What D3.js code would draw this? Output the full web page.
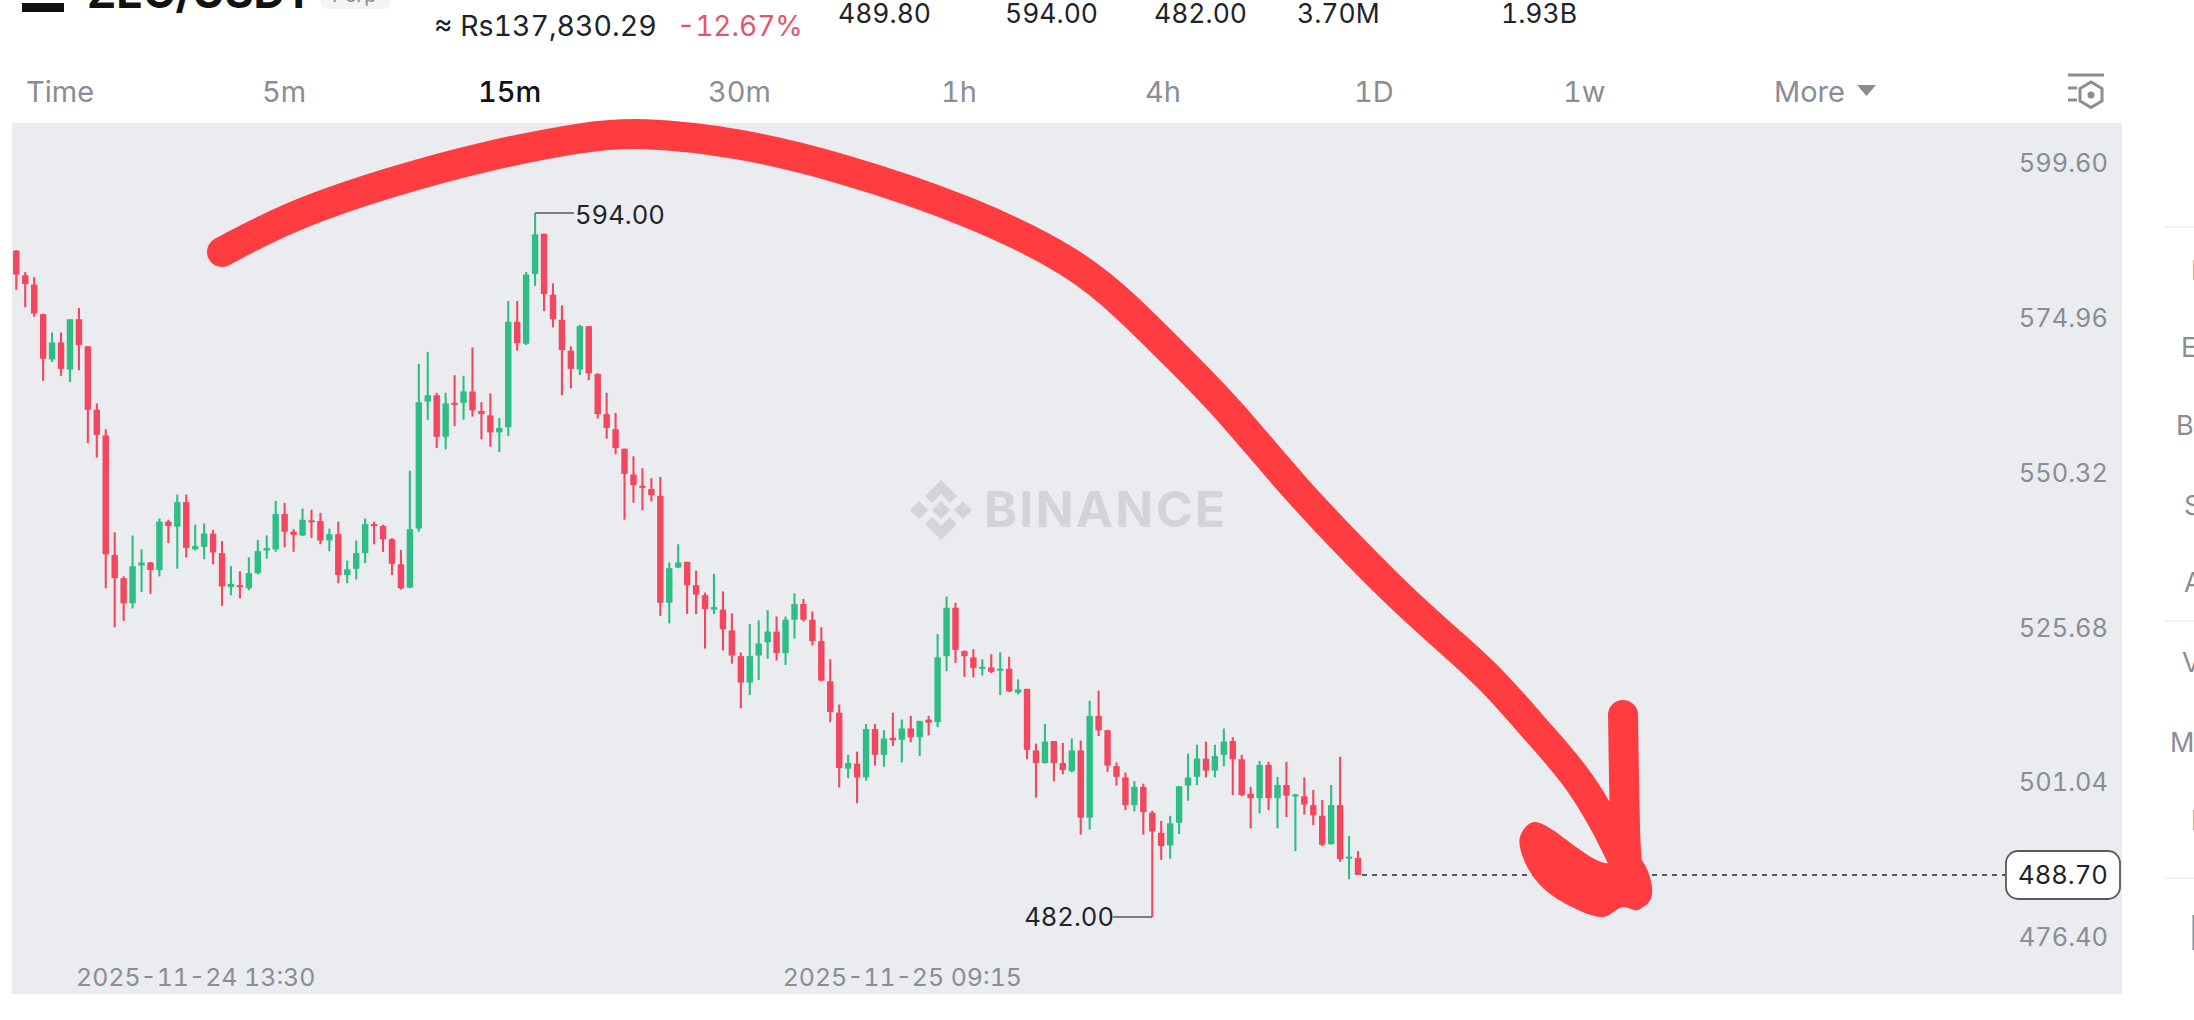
<!DOCTYPE html>
<html>
<head>
<meta charset="utf-8">
<script src="https://cdn.jsdelivr.net/npm/d3@7/dist/d3.min.js"></script>
<style>
html,body{margin:0;padding:0;background:#fff;overflow:hidden}
svg{display:block}
text{font-family:Inter,"Noto Sans",sans-serif;font-feature-settings:"tnum" 1}
</style>
</head>
<body>
<div id="chart"></div>
<script>
// --- data (15m candles, USDT) ---
const opens = [
588.0,584.1,582.6,577.9,570.7,573.4,569.1,577.1,572.8,562.7,
558.6,539.6,535.9,531.9,537.9,538.4,537.2,544.9,544.1,548.0,
540.5,540.9,543.0,539.9,534.5,534.8,534.3,536.7,540.3,540.5,
546.1,543.3,542.7,545.1,545.0,541.9,542.9,536.4,537.4,539.9,
544.5,544.2,542.1,538.1,534.4,543.8,564.0,565.0,558.4,563.8,
563.8,565.6,562.5,561.8,559.1,559.9,576.7,573.2,584.3,590.7,
581.0,577.0,572.1,569.1,576.0,568.4,562.0,559.6,556.5,552.4,
550.6,550.1,549.0,532.0,537.6,538.5,534.8,533.2,530.9,530.9,
527.6,523.5,519.3,523.6,525.7,527.4,524.0,529.3,531.8,529.3,
525.9,519.5,514.5,505.6,506.4,504.2,511.9,507.8,510.5,510.2,
512.0,510.6,513.4,513.0,523.5,531.2,524.3,523.3,521.5,521.7,
521.2,521.5,517.7,518.3,508.5,506.5,510.0,506.5,505.2,508.5,
497.8,514.0,511.7,506.0,504.2,499.8,502.7,498.6,495.4,493.4,
497.0,502.9,504.3,507.2,505.3,507.8,510.0,507.1,501.6,500.9,
506.2,500.9,503.0,501.3,501.2,499.8,498.1,493.6,499.8,491.4,
491.4];
const closes = [
584.2,582.7,578.0,570.8,573.4,569.2,577.1,573.0,562.7,558.7,
539.7,535.9,531.9,537.8,538.4,537.2,544.9,544.2,548.0,540.7,
541.0,543.0,540.0,534.6,535.0,534.5,536.7,540.2,540.7,546.1,
543.3,542.8,545.2,544.8,541.9,542.9,536.4,537.3,539.9,544.5,
544.2,542.1,538.2,534.3,543.7,563.9,565.0,558.4,563.7,563.5,
565.6,562.6,562.0,559.1,559.8,576.7,573.3,584.2,590.6,581.1,
577.1,572.2,569.2,576.0,568.5,562.0,559.8,556.6,552.5,550.7,
550.3,549.1,532.0,537.5,538.4,534.8,533.3,531.0,531.3,527.8,
523.6,519.3,523.5,525.5,527.4,524.0,529.3,531.8,529.3,525.9,
519.6,514.6,505.7,506.5,504.2,511.9,507.8,510.4,510.1,512.0,
510.6,513.2,512.9,523.3,531.2,524.5,523.5,521.6,521.8,521.0,
521.5,517.9,518.2,508.6,506.5,509.9,506.5,505.4,508.5,497.8,
514.0,511.7,506.1,504.3,499.8,502.7,498.7,495.6,493.3,496.9,
502.8,504.2,507.2,505.3,507.6,509.9,507.1,501.4,500.9,506.2,
500.9,503.0,501.3,501.5,499.9,498.2,493.5,499.8,491.2,491.6,
488.7];
const highs = [
588.1,584.6,583.8,578.0,575.0,575.0,577.1,578.9,572.8,563.7,
559.6,543.2,536.2,542.7,540.5,538.5,545.4,545.2,549.2,549.2,
544.4,544.6,543.6,541.8,537.8,537.0,539.2,542.0,542.7,548.2,
547.9,543.7,547.0,546.8,546.3,543.8,544.9,538.7,541.9,545.4,
544.9,544.4,542.3,540.4,553.0,570.0,571.9,565.4,565.4,568.2,
568.1,572.6,563.9,565.3,561.4,580.0,580.0,584.6,594.0,590.7,
582.8,579.3,572.8,576.2,576.0,568.5,565.4,562.2,556.5,555.3,
553.4,551.8,552.0,538.4,541.3,538.5,537.1,533.6,536.6,533.8,
530.3,524.1,528.6,529.2,530.8,529.8,529.8,533.5,532.6,530.6,
528.1,523.0,515.8,507.8,508.3,512.7,512.7,511.7,514.5,513.4,
514.0,513.2,514.0,527.0,533.0,532.0,524.4,524.6,523.0,523.8,
524.1,523.4,519.8,518.3,509.6,512.7,510.0,509.7,510.4,510.1,
516.4,518.0,511.8,506.6,505.0,503.6,503.2,498.9,497.3,498.1,
502.8,508.0,509.4,509.9,509.4,512.0,510.6,507.8,502.7,506.8,
506.7,504.3,506.7,501.6,504.2,502.2,500.6,503.0,507.5,494.9,
492.5];
const lows = [
581.8,579.0,577.5,567.3,570.3,568.1,567.1,569.0,557.4,555.1,
534.3,528.1,529.1,531.1,533.7,533.4,536.2,541.5,537.4,539.2,
540.3,538.9,538.1,531.5,533.2,532.7,534.0,536.5,539.0,540.1,
540.8,540.1,542.6,542.3,541.3,540.2,535.1,535.1,535.7,538.3,
541.3,540.1,536.4,534.1,534.3,543.3,561.1,556.6,556.4,560.1,
561.1,561.6,558.0,556.8,556.0,558.5,572.1,573.0,582.4,578.4,
575.8,565.0,566.1,568.2,567.4,561.3,558.1,555.6,545.2,547.9,
546.7,548.1,529.9,528.7,537.5,530.2,530.2,524.7,530.2,524.4,
522.3,515.2,517.3,519.7,523.1,522.8,522.1,526.3,529.0,525.2,
519.5,513.0,502.6,504.1,500.1,503.7,506.1,505.9,509.2,506.6,
509.8,507.6,510.9,512.2,521.1,522.4,520.2,520.1,520.4,520.8,
517.3,517.8,517.4,507.1,501.0,506.4,503.6,504.7,505.0,495.1,
495.9,510.8,505.1,502.9,499.0,498.8,495.1,482.0,491.1,491.3,
495.2,500.5,503.0,504.2,504.2,506.0,501.4,501.2,496.1,498.5,
499.0,496.1,497.9,492.5,498.3,496.6,493.3,493.5,490.8,488.0,
488.7];

const priceTicks = [599.60,574.96,550.32,525.68,501.04,476.40];
const timeTickIndex = [20,99];
const timeTickLabels = ["2025-11-24 13:30","2025-11-25 09:15"];
const lastPrice = 488.70;
const maxPoint = {i:58, price:594.00};
const minPoint = {i:127, price:482.00};

const tabLabels = ["Time","5m","15m","30m","1h","4h","1D","1w","More"];
const tabStarts = [26,262,478,708,941,1145,1354,1563,1774];
const activeTab = "15m";
const statLabels = ["489.80","594.00","482.00","3.70M","1.93B"];
const statStarts = [838,1005,1154,1297,1501];
const sideLetters = ["M","E","B","S","A","V","M","R"];
const sideStarts  = [2191,2181,2176,2184,2184,2182,2170,2191];
const sideMiddles = [270,347,425,505,582,662,742,820];

// Hand-drawn red arrow: annotation overlay in page pixels, not data
const arrowShaftPx = [[222,252],[289,216],[389,182],[488,155],[588,136],[638,132],[737,142],[837,166],[970,210],[1077,263],[1127,307],[1177,357],[1227,407],[1293,487],[1360,557],[1400,597],[1450,642],[1493,680],[1540,735],[1581,780],[1618,847],[1637,893]];
const arrowBarbPx = [[1623,715],[1624,780],[1625,830],[1626,857],[1630,890]];
const arrowBlobPx = [[1534,822],[1605,863],[1638,857],[1652,893],[1638,910],[1623,907],[1603,917],[1572,907],[1542,887],[1524,860],[1520,837]];

// --- layout ---
const W=2194,H=1020;
const plot={l:12,r:2122,t:123,b:994};
const FG="#1e2329",GR="#8a8d93",UP="#2ebd85",DOWN="#f3465e",MARK="#ff3c3f",LINE="#555a60";

const candles=opens.map((o,i)=>({i,o,c:closes[i],h:highs[i],l:lows[i]}));

const x=d3.scaleLinear().domain([0,150]).range([16.3,1358]);
const y=d3.scaleLinear().domain([594,482]).range([213,917]);

const svg=d3.select("#chart").append("svg").attr("width",W).attr("height",H).attr("viewBox",`0 0 ${W} ${H}`);
const defs=svg.append("defs");
defs.append("filter").attr("id","soft").append("feGaussianBlur").attr("stdDeviation",0.45);

// --- header ---
svg.append("rect").attr("x",22).attr("y",3).attr("width",42).attr("height",9).attr("fill","#111");
svg.append("text").attr("x",87).attr("y",8).attr("font-size",44).attr("font-weight",700).attr("fill","#111").text("ZEC/USDT");
svg.append("rect").attr("x",321).attr("y",-20).attr("width",69).attr("height",29).attr("rx",6).attr("fill","#f4f4f5");
svg.append("text").attr("x",332).attr("y",2).attr("font-size",20).attr("fill",GR).text("Perp");
svg.append("text").attr("x",434).attr("y",36).attr("font-size",28.5).attr("fill",FG).text("≈ Rs137,830.29");
svg.append("text").attr("x",677).attr("y",36).attr("font-size",28).attr("fill","#e5546e").text("-12.67%");
svg.selectAll("text.stat").data(statLabels).join("text").attr("class","stat")
  .attr("x",(d,i)=>statStarts[i]).attr("y",23).attr("font-size",26.5).attr("fill",FG).text(d=>d);

// --- tabs ---
svg.selectAll("text.tab").data(tabLabels).join("text").attr("class","tab")
  .attr("x",(d,i)=>tabStarts[i]).attr("y",102).attr("font-size",29)
  .attr("font-weight",d=>d===activeTab?500:400)
  .attr("fill",d=>d===activeTab?"#111":GR).text(d=>d);
svg.append("path").attr("d","M1857 85H1876L1866.5 96Z").attr("fill",GR);
const ic=svg.append("g").attr("stroke",GR).attr("stroke-width",3).attr("fill","none");
ic.append("path").attr("d","M2068 75H2104M2068 88H2077M2068 100H2077");
ic.append("path").attr("d","M2091 82L2102 88.5V101L2091 107.5L2080 101V88.5Z");
svg.append("circle").attr("cx",2091).attr("cy",95).attr("r",3.5).attr("fill",GR);

// --- plot area ---
svg.append("rect").attr("x",plot.l).attr("y",plot.t).attr("width",plot.r-plot.l).attr("height",plot.b-plot.t).attr("fill","#eaecf0");

// --- watermark ---
const wm=svg.append("g").attr("fill","#d2d4d9");
wm.append("path").attr("d","M941 480l16 16l-7 7l-9 -9l-9 9l-7 -7Z M941 540l16 -16l-7 -7l-9 9l-9 -9l-7 7Z M941 501l9 9l-9 9l-9 -9Z M919 501l9 9l-9 9l-9 -9Z M963 501l9 9l-9 9l-9 -9Z");
wm.append("text").attr("x",984).attr("y",527).attr("font-size",50).attr("font-weight",700).attr("letter-spacing",2.2).text("BINANCE");

// --- candles ---
const cg=svg.append("g").attr("filter","url(#soft)");
const col=d=>d.c>=d.o?UP:DOWN;
cg.selectAll("line.wick").data(candles).join("line").attr("class","wick")
  .attr("x1",d=>x(d.i)).attr("x2",d=>x(d.i)).attr("y1",d=>y(d.h)).attr("y2",d=>y(d.l))
  .attr("stroke",col).attr("stroke-width",2.1);
const bodyW=6.4;
cg.selectAll("rect.body").data(candles).join("rect").attr("class","body")
  .attr("x",d=>x(d.i)-bodyW/2).attr("width",bodyW)
  .attr("y",d=>y(Math.max(d.o,d.c)))
  .attr("height",d=>Math.max(2,Math.abs(y(d.o)-y(d.c))))
  .attr("fill",col);

// --- high / low callouts ---
svg.append("line").attr("x1",x(maxPoint.i)).attr("x2",574).attr("y1",y(maxPoint.price)).attr("y2",y(maxPoint.price)).attr("stroke",LINE).attr("stroke-width",1.6);
svg.append("text").attr("x",575).attr("y",y(maxPoint.price)).attr("dy","0.42em").attr("font-size",25.6).attr("fill",FG).text(d3.format(".2f")(maxPoint.price));
svg.append("line").attr("x1",1113).attr("x2",x(minPoint.i)).attr("y1",y(minPoint.price)).attr("y2",y(minPoint.price)).attr("stroke",LINE).attr("stroke-width",1.6);
svg.append("text").attr("x",1114).attr("y",y(minPoint.price)).attr("dy","0.36em").attr("text-anchor","end").attr("font-size",25.6).attr("fill",FG).text(d3.format(".2f")(minPoint.price));

// --- last price line + tag ---
svg.append("line").attr("x1",x(150)+4).attr("x2",2006).attr("y1",y(lastPrice)).attr("y2",y(lastPrice))
  .attr("stroke",LINE).attr("stroke-width",2).attr("stroke-dasharray","5 5");
svg.append("rect").attr("x",2006).attr("y",851).attr("width",114).attr("height",48).attr("rx",12)
  .attr("fill","#fff").attr("stroke",LINE).attr("stroke-width",1.8);
svg.append("text").attr("x",2063).attr("y",875).attr("dy","0.36em").attr("text-anchor","middle").attr("font-size",25.6).attr("fill",FG).text(d3.format(".2f")(lastPrice));

// --- price axis ---
const yAxis=d3.axisRight(y).tickValues(priceTicks).tickSize(0).tickFormat(d3.format(".2f"));
const ya=svg.append("g").attr("transform","translate(2108,0)").call(yAxis);
ya.select(".domain").remove();
ya.selectAll("text").attr("x",0).attr("dy","-0.25em").attr("text-anchor","end").attr("font-size",25.4).attr("font-family","Inter").attr("fill",GR);

// --- time axis ---
const xAxis=d3.axisBottom(x).tickValues(timeTickIndex).tickSize(0).tickFormat((d,i)=>timeTickLabels[i]);
const xa=svg.append("g").attr("transform","translate(0,977)").call(xAxis);
xa.select(".domain").remove();
xa.selectAll("text").attr("y",0).attr("dy","0.36em").attr("font-size",24.9).attr("font-family","Inter").attr("fill",GR);

// --- side panel ---
svg.selectAll("text.side").data(sideLetters).join("text").attr("class","side")
  .attr("x",(d,i)=>sideStarts[i]).attr("y",(d,i)=>sideMiddles[i]).attr("dy","0.36em")
  .attr("font-size",27).attr("fill",GR).text(d=>d);
svg.selectAll("line.sideRule").data([227,621,878]).join("line").attr("class","sideRule")
  .attr("x1",2165).attr("x2",W).attr("y1",d=>d).attr("y2",d=>d).attr("stroke","#efefef").attr("stroke-width",1.5);
svg.append("line").attr("x1",2193.5).attr("x2",2193.5).attr("y1",915).attr("y2",950).attr("stroke",GR).attr("stroke-width",2);

// --- hand-drawn arrow ---
const hand=d3.line().curve(d3.curveBasis);
svg.append("path").attr("d",hand(arrowShaftPx)).attr("fill","none").attr("stroke",MARK).attr("stroke-width",30).attr("stroke-linecap","round").attr("stroke-linejoin","round");
svg.append("path").attr("d",hand(arrowBarbPx)).attr("fill","none").attr("stroke",MARK).attr("stroke-width",30).attr("stroke-linecap","round");
svg.append("path").attr("d",d3.line().curve(d3.curveCatmullRomClosed.alpha(0.5))(arrowBlobPx)).attr("fill",MARK);
</script>
</body>
</html>
